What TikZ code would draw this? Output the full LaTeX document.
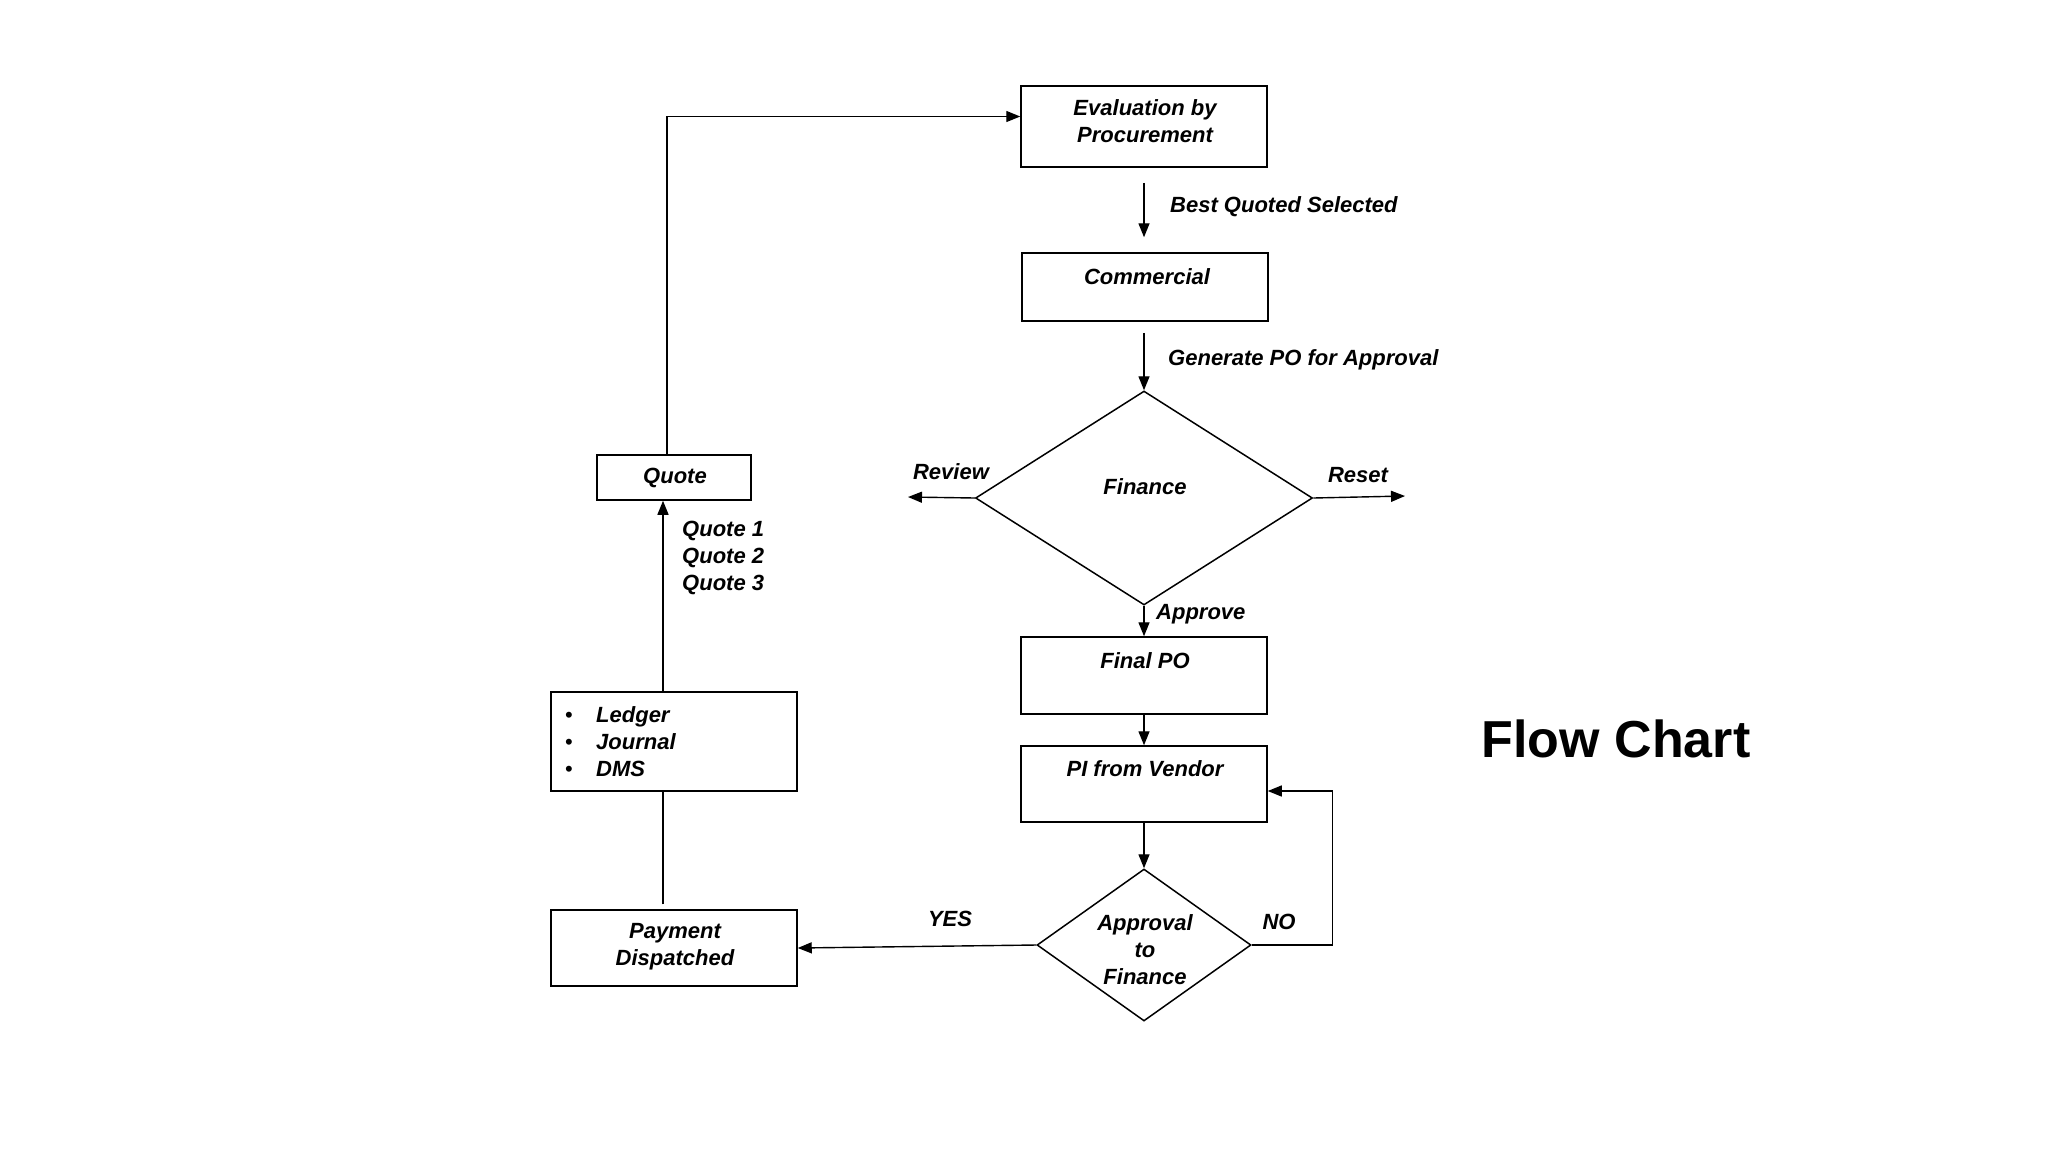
\documentclass[tikz,border=0pt]{standalone}
\usepackage{fontspec}
\setmainfont{Liberation Sans}
\usetikzlibrary{shapes.geometric,arrows.meta}
\begin{document}
\begin{tikzpicture}[x=1pt,y=-1pt,
  box/.style={draw, line width=1.5pt, rectangle, inner sep=0pt},
  dia/.style={draw, line width=1.5pt, shape=diamond, inner sep=0pt},
  txt/.style={font=\fontsize{22}{27}\selectfont\bfseries\itshape, align=center, inner sep=0pt},
  arr/.style={line width=1.4pt, -{Triangle[length=14pt,width=11pt]}},
  ln/.style={line width=1.4pt}]
\useasboundingbox (0,0) rectangle (2048,1152);

% boxes
\node[box, minimum width=246pt, minimum height=81pt] (eval) at (1144,126.5) {};
\node[box, minimum width=246pt, minimum height=68pt] (com) at (1145,287) {};
\node[dia, minimum width=337pt, minimum height=214pt] (fin) at (1144,498) {};
\node[box, minimum width=246pt, minimum height=77pt] (fpo) at (1144,675.5) {};
\node[box, minimum width=246pt, minimum height=76pt] (pi) at (1144,784) {};
\node[dia, minimum width=214pt, minimum height=152pt] (appr) at (1144,945) {};
\node[box, minimum width=246pt, minimum height=76pt] (pay) at (674,948) {};
\node[box, minimum width=246pt, minimum height=99pt] (led) at (674,741.5) {};
\node[box, minimum width=154pt, minimum height=45pt] (quote) at (674,477.5) {};

% texts
\node[txt] (evalt) at (1145,121) {Evaluation by\\Procurement};
\node[txt] (comt) at (1147,277) {Commercial};
\node[txt] (fint) at (1145,487) {Finance};
\node[txt] (fpot) at (1145,661) {Final PO};
\node[txt] (pit) at (1145,769) {PI from Vendor};
\node[txt] (apprt) at (1145,950) {Approval\\to\\Finance};
\node[txt] (payt) at (675,947) {Payment\\Dispatched};
\node[txt] (quotet) at (675,478) {Quote};
\node[txt, align=left, anchor=west] (ledt) at (565,742) {%
  \makebox[31pt][l]{\normalfont\textbullet}Ledger\\
  \makebox[31pt][l]{\normalfont\textbullet}Journal\\
  \makebox[31pt][l]{\normalfont\textbullet}DMS};

% labels
\node[txt, anchor=west] (lbest) at (1170,207) {Best Quoted Selected};
\node[txt, anchor=west] (lgen) at (1168,360) {Generate PO for Approval};
\node[txt] (lrev) at (951,472) {Review};
\node[txt] (lres) at (1358,475) {Reset};
\node[txt, anchor=west] (lapp) at (1156,614) {Approve};
\node[txt] (lyes) at (950,919) {YES};
\node[txt] (lno) at (1279,922) {NO};
\node[txt, align=left, anchor=west] (lquotes) at (682,558) {Quote 1\\Quote 2\\Quote 3};
\node[font=\fontsize{52}{60}\selectfont\bfseries, inner sep=0pt] (title) at (1616,739) {Flow Chart};

% free ends
\coordinate (revend) at (908,497);
\coordinate (resend) at (1405,496);

% connectors
\draw[arr] ([yshift=-15pt]eval.south) -- ([yshift=15pt]eval.south |- com.north);
\draw[arr] ([yshift=-11pt]eval.south |- com.south) -- (fin.north);
\draw[arr] (fin.west) -- (revend);
\draw[arr] (fin.east) -- (resend);
\draw[arr] (fin.south) -- (fpo.north);
\draw[arr] (fpo.south) -- (pi.north);
\draw[arr] (pi.south) -- (appr.north);
\draw[arr] (appr.east) -- ++(81,0) |- ([yshift=-7pt]pi.east);
\draw[arr] (appr.west) -- (pay.east);
\draw[ln] ([xshift=-11pt,yshift=5pt]pay.north) -- ([xshift=-11pt]led.south);
\draw[arr] ([xshift=-11pt]led.north) -- ([xshift=-11pt]quote.south);
\draw[arr] ([xshift=-7pt]quote.north) |- ([yshift=10pt]eval.west);
\end{tikzpicture}
\end{document}
